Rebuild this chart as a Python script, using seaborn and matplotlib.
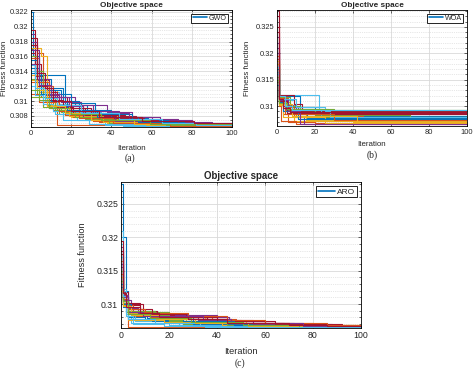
import numpy as np
import pandas as pd
import matplotlib
matplotlib.use("Agg")
import matplotlib.pyplot as plt
from matplotlib.ticker import MultipleLocator, FuncFormatter
import seaborn as sns

# ---------------- data: convergence curves (iteration, best fitness) breakpoints ----------------
gwo_runs = [
    [(0,0.3220),(1,0.3160),(4,0.3135),(17,0.3095),(28,0.3080),(45,0.3072),(75,0.3068)],
    [(0,0.3175),(3,0.3165),(6,0.3120),(11,0.3098),(13,0.3068)],
    [(0,0.3150),(2,0.3125),(7,0.3108),(12,0.3090),(20,0.3078),(38,0.3071),(62,0.3067)],
    [(0,0.3190),(2,0.3140),(6,0.3115),(12,0.3105),(22,0.3095),(38,0.3085),(50,0.3079),(60,0.3074),(80,0.3069)],
    [(0,0.3130),(3,0.3110),(8,0.3095),(15,0.3085),(27,0.3076),(48,0.3070),(70,0.3067)],
    [(0,0.3160),(2,0.3138),(5,0.3112),(14,0.3096),(19,0.3085),(35,0.3075),(46,0.3066)],
    [(0,0.3195),(2,0.3150),(5,0.3128),(9,0.3105),(18,0.3090),(30,0.3080),(52,0.3073),(72,0.3069)],
    [(0,0.3145),(4,0.3130),(10,0.3118),(16,0.3100),(24,0.3088),(40,0.3077),(58,0.3071),(85,0.3068)],
    [(0,0.3125),(5,0.3105),(11,0.3088),(21,0.3079),(34,0.3072),(55,0.3068)],
    [(0,0.3172),(5,0.3160),(8,0.3115),(13,0.3095),(26,0.3082),(43,0.3074),(66,0.3069)],
    [(0,0.3180),(3,0.3130),(9,0.3110),(15,0.3098),(25,0.3086),(44,0.3078),(64,0.3072),(90,0.3069)],
    [(0,0.3105),(6,0.3092),(14,0.3082),(29,0.3074),(50,0.3069)],
    [(0,0.3140),(3,0.3120),(7,0.3100),(12,0.3083),(23,0.3074),(37,0.3068)],
    [(0,0.3165),(2,0.3133),(6,0.3112),(13,0.3092),(21,0.3083),(33,0.3077),(56,0.3071),(78,0.3068)],
    [(0,0.3155),(3,0.3125),(8,0.3115),(15,0.3110),(20,0.3097),(32,0.3082),(50,0.3075),(68,0.3070)],
    [(0,0.3110),(4,0.3098),(9,0.3090),(17,0.3081),(31,0.3073),(60,0.3068)],
    [(0,0.3135),(4,0.3112),(10,0.3094),(19,0.3080),(36,0.3072),(57,0.3068)],
    [(0,0.3150),(2,0.3128),(7,0.3108),(14,0.3093),(26,0.3079),(42,0.3073),(61,0.3069)],
    [(0,0.3160),(3,0.3140),(6,0.3105),(12,0.3088),(22,0.3078),(39,0.3071),(67,0.3068)],
    [(0,0.3120),(2,0.3108),(6,0.3096),(11,0.3087),(16,0.3074),(29,0.3069),(54,0.3067)],
    [(0,0.3185),(3,0.3120),(8,0.3102),(16,0.3090),(27,0.3081),(47,0.3075),(63,0.3071),(88,0.3069)],
    [(0,0.3138),(5,0.3110),(10,0.3100),(18,0.3088),(33,0.3078),(53,0.3072),(76,0.3069)],
    [(0,0.3158),(4,0.3126),(9,0.3098),(14,0.3086),(24,0.3077),(41,0.3070),(69,0.3067)],
    [(0,0.3128),(3,0.3115),(8,0.3093),(17,0.3084),(30,0.3075),(51,0.3069)],
    [(0,0.3168),(4,0.3122),(10,0.3106),(19,0.3094),(31,0.3084),(49,0.3076),(73,0.3070)],
    [(0,0.3115),(4,0.3102),(9,0.3091),(20,0.3083),(35,0.3074),(59,0.3069)],
    [(0,0.3148),(2,0.3118),(7,0.3104),(13,0.3094),(25,0.3084),(44,0.3076),(65,0.3071),(82,0.3068)],
    [(0,0.3175),(3,0.3138),(7,0.3118),(11,0.3100),(20,0.3087),(34,0.3079),(55,0.3073),(81,0.3070)],
]

woa_runs = [
    [(0,0.3180),(1,0.3115),(4,0.3098),(12,0.3086),(30,0.3082)],
    [(0,0.3200),(1,0.3110),(3,0.3085),(6,0.3070),(20,0.3068)],
    [(0,0.3175),(1,0.3105),(5,0.3090),(9,0.3072)],
    [(0,0.3230),(1,0.3118),(4,0.3100),(11,0.3080),(14,0.3066)],
    [(0,0.3145),(1,0.3112),(6,0.3095),(10,0.3080)],
    [(0,0.3160),(1,0.3122),(22,0.3095),(27,0.3085)],
    [(0,0.3282),(1,0.3115),(3,0.3100),(8,0.3090)],
    [(0,0.3150),(1,0.3120),(12,0.3098),(20,0.3083),(40,0.3077)],
    [(0,0.3190),(1,0.3100),(2,0.3072),(10,0.3066)],
    [(0,0.3170),(1,0.3108),(7,0.3085),(15,0.3074),(40,0.3071)],
    [(0,0.3210),(1,0.3120),(5,0.3102),(10,0.3088)],
    [(0,0.3155),(1,0.3110),(4,0.3092),(20,0.3083),(70,0.3080)],
    [(0,0.3165),(1,0.3112),(9,0.3095),(23,0.3075),(44,0.3073)],
    [(0,0.3240),(1,0.3122),(9,0.3105),(13,0.3088)],
    [(0,0.3140),(1,0.3105),(5,0.3088),(16,0.3078)],
    [(0,0.3185),(1,0.3115),(6,0.3098),(9,0.3081),(45,0.3079)],
    [(0,0.3180),(1,0.3102),(3,0.3080),(25,0.3069)],
    [(0,0.3220),(1,0.3116),(4,0.3095),(12,0.3085)],
    [(0,0.3150),(1,0.3118),(7,0.3100),(12,0.3092)],
    [(0,0.3160),(1,0.3114),(10,0.3098),(25,0.3090),(28,0.3080)],
    [(0,0.3250),(1,0.3110),(5,0.3088),(20,0.3086)],
    [(0,0.3170),(1,0.3108),(3,0.3090),(11,0.3076)],
    [(0,0.3195),(1,0.3116),(4,0.3085),(30,0.3074)],
    [(0,0.3185),(1,0.3104),(8,0.3082),(42,0.3070)],
    [(0,0.3200),(1,0.3112),(6,0.3090),(12,0.3067)],
    [(0,0.3150),(1,0.3106),(5,0.3094),(30,0.3092)],
    [(0,0.3175),(1,0.3120),(4,0.3100),(8,0.3092)],
    [(0,0.3270),(1,0.3114),(3,0.3096),(7,0.3089)],
]

aro_runs = [
    [(0,0.3280),(1,0.3200),(2,0.3120),(3,0.3090),(14,0.3082),(30,0.3074),(50,0.3068),(70,0.3066)],
    [(0,0.3150),(1,0.3105),(3,0.3065)],
    [(0,0.3140),(1,0.3102),(4,0.3085),(12,0.3078),(27,0.3072),(55,0.3067)],
    [(0,0.3160),(1,0.3110),(3,0.3092),(9,0.3085),(28,0.3080),(45,0.3074),(60,0.3069),(90,0.3066)],
    [(0,0.3130),(1,0.3100),(3,0.3088),(20,0.3078),(40,0.3070),(65,0.3066)],
    [(0,0.3200),(1,0.3115),(2,0.3095),(4,0.3072),(20,0.3068),(40,0.3065)],
    [(0,0.3170),(1,0.3112),(3,0.3098),(8,0.3088),(14,0.3082),(28,0.3078),(46,0.3071),(68,0.3067)],
    [(0,0.3180),(1,0.3108),(3,0.3080),(10,0.3076),(25,0.3071),(48,0.3067)],
    [(0,0.3120),(1,0.3098),(5,0.3082),(15,0.3080),(36,0.3076),(50,0.3070),(85,0.3068)],
    [(0,0.3135),(1,0.3100),(3,0.3086),(13,0.3080),(35,0.3075),(52,0.3069),(75,0.3066)],
    [(0,0.3155),(1,0.3106),(4,0.3090),(10,0.3084),(40,0.3077),(46,0.3071),(72,0.3067)],
    [(0,0.3145),(1,0.3104),(2,0.3088),(20,0.3076),(26,0.3070),(58,0.3066)],
    [(0,0.3190),(1,0.3122),(2,0.3085),(6,0.3075),(24,0.3068),(45,0.3066)],
    [(0,0.3175),(1,0.3118),(3,0.3100),(9,0.3090),(15,0.3084),(22,0.3080),(36,0.3075),(60,0.3070),(88,0.3067)],
    [(0,0.3125),(1,0.3096),(3,0.3078),(13,0.3074),(30,0.3070),(57,0.3066)],
    [(0,0.3165),(1,0.3110),(3,0.3088),(12,0.3081),(38,0.3078),(48,0.3072),(80,0.3068),(98,0.3066)],
    [(0,0.3140),(1,0.3098),(3,0.3076),(18,0.3073),(42,0.3068)],
    [(0,0.3185),(1,0.3114),(3,0.3094),(7,0.3087),(20,0.3081),(32,0.3076),(55,0.3070),(78,0.3067)],
    [(0,0.3150),(1,0.3102),(3,0.3090),(14,0.3083),(20,0.3075),(44,0.3069),(66,0.3066)],
    [(0,0.3210),(1,0.3120),(2,0.3100),(3,0.3078),(14,0.3071),(33,0.3067)],
    [(0,0.3195),(1,0.3115),(2,0.3102),(8,0.3092),(13,0.3085),(27,0.3080),(40,0.3074),(64,0.3070),(92,0.3067)],
    [(0,0.3130),(1,0.3100),(4,0.3084),(11,0.3079),(26,0.3074),(47,0.3068),(68,0.3066)],
    [(0,0.3145),(1,0.3108),(3,0.3092),(10,0.3086),(28,0.3082),(44,0.3076),(60,0.3071),(86,0.3068)],
    [(0,0.3120),(1,0.3097),(4,0.3083),(16,0.3077),(31,0.3072),(53,0.3067)],
    [(0,0.3160),(1,0.3110),(3,0.3088),(9,0.3082),(34,0.3077),(46,0.3071),(76,0.3067)],
    [(0,0.3135),(1,0.3104),(3,0.3085),(12,0.3079),(29,0.3073),(51,0.3068),(74,0.3066)],
    [(0,0.3170),(1,0.3112),(2,0.3082),(5,0.3070),(18,0.3067),(35,0.3065)],
    [(0,0.3180),(1,0.3116),(2,0.3096),(8,0.3086),(16,0.3081),(28,0.3077),(44,0.3072),(70,0.3069),(86,0.3067)],
]

algorithms = ["GWO", "WOA", "ARO"]
captions = ["(a)", "(b)", "(c)"]
max_iter = 100

# MATLAB default colour order
matlab_colors = ["#0072BD", "#D95319", "#EDB120", "#7E2F8E", "#77AC30", "#4DBEEE", "#A2142F"]


def to_frame(runs):
    rows = []
    for r, pts in enumerate(runs):
        for (it, v) in pts:
            rows.append((r, it, v))
        rows.append((r, max_iter, pts[-1][1]))
    return pd.DataFrame(rows, columns=["run", "Iteration", "Fitness"])


sns.set_style("ticks")
plt.rcParams["font.family"] = ["Liberation Sans", "DejaVu Sans"]

fig = plt.figure(figsize=(4.74, 3.69), dpi=100)
W, H = 474, 369


def axes_px(l, t, r, b):
    return fig.add_axes([l / W, 1 - b / H, (r - l) / W, (b - t) / H])


ax_a = axes_px(31, 10, 232, 127)
ax_b = axes_px(277, 10, 467, 126)
ax_c = axes_px(121, 182, 361, 328)

# axes, runs, ylim, major, minor, tick font, title font, ylabel x, xlabel y (axes coords)
cfg = [
    (ax_a, gwo_runs, (0.3065, 0.32225), 0.002, 0.0005, 5.4, 5.9, -0.112, -0.15),
    (ax_b, woa_runs, (0.30625, 0.3282), 0.005, 0.001, 5.4, 5.9, -0.137, -0.125),
    (ax_c, aro_runs, (0.3064, 0.3283), 0.005, 0.001, 6.3, 7.0, -0.142, -0.13),
]

fmt = FuncFormatter(lambda v, p: ("%.3f" % v).rstrip("0").rstrip("."))

for (ax, runs, ylim, major, minor, fs, tfs, ylx, xly), name in zip(cfg, algorithms):
    df = to_frame(runs)
    pal = [matlab_colors[i % 7] for i in range(len(runs))]
    sns.lineplot(data=df, x="Iteration", y="Fitness", hue="run", palette=pal,
                 estimator=None, sort=False, drawstyle="steps-post",
                 linewidth=0.8, legend=False, ax=ax)
    ax.set_xlim(0, max_iter)
    ax.set_ylim(*ylim)
    ax.xaxis.set_major_locator(MultipleLocator(20))
    ax.yaxis.set_major_locator(MultipleLocator(major))
    ax.yaxis.set_minor_locator(MultipleLocator(minor))
    ax.yaxis.set_major_formatter(fmt)
    ax.grid(which="major", color="#d9d9d9", linewidth=0.6)
    ax.grid(which="minor", axis="y", color="#d0d0d0", linestyle=":", linewidth=0.5)
    ax.set_axisbelow(True)
    for s in ax.spines.values():
        s.set_color("black")
        s.set_linewidth(0.6)
    ax.tick_params(which="both", direction="in", top=True, right=True,
                   labelsize=fs, width=0.5, pad=2)
    ax.tick_params(which="major", length=2.5)
    ax.tick_params(which="minor", length=1.2)
    ax.set_xlabel("Iteration", fontsize=fs + 0.3)
    ax.set_ylabel("Fitness function", fontsize=fs + 0.3)
    ax.yaxis.set_label_coords(ylx, 0.5)
    ax.xaxis.set_label_coords(0.5, xly)
    ax.set_title("Objective space", fontsize=tfs, fontweight="bold", pad=2)
    leg = ax.legend([ax.lines[0]], [name], loc="upper right", fontsize=fs - 0.3,
                    frameon=True, fancybox=False, edgecolor="black", framealpha=1,
                    borderpad=0.2, handlelength=2.0, handletextpad=0.3,
                    borderaxespad=0.5)
    leg.get_frame().set_linewidth(0.6)
    for h in leg.legend_handles:
        h.set_linewidth(1.2)

cap_font = ["Liberation Serif", "DejaVu Serif"]
fig.text(130 / W, 1 - 158 / H, captions[0], ha="center", va="center", fontsize=7, family=cap_font)
fig.text(372 / W, 1 - 155 / H, captions[1], ha="center", va="center", fontsize=7, family=cap_font)
fig.text(240 / W, 1 - 363 / H, captions[2], ha="center", va="center", fontsize=7, family=cap_font)

fig.savefig("out.png", dpi=100)
